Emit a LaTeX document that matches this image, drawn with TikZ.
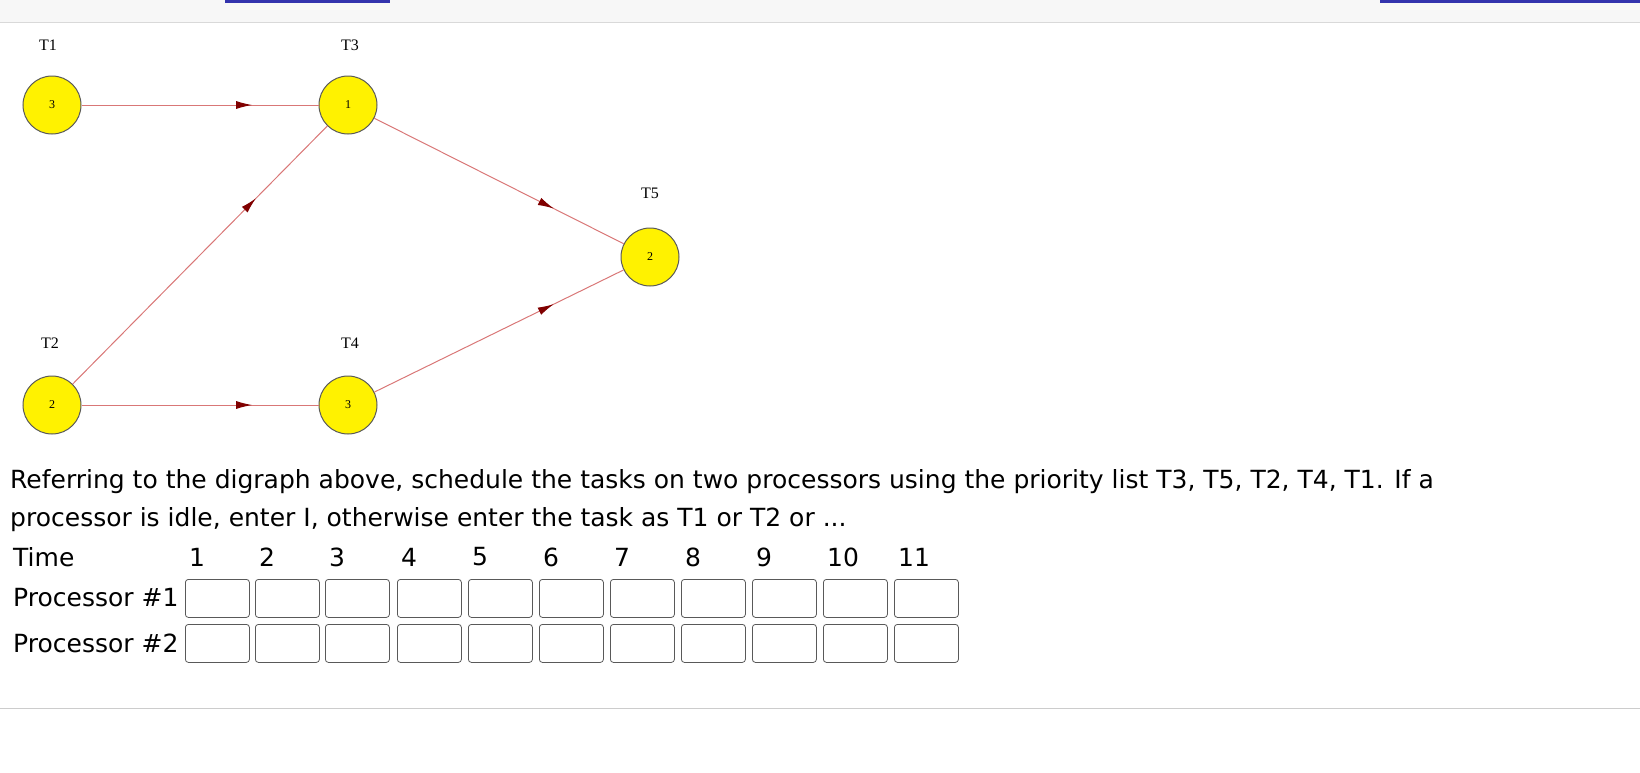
\documentclass[tikz,border=0pt]{standalone}
\usepackage{fontspec}
\setmainfont{Liberation Serif}
\newfontfamily\uifont{DejaVu Sans}
\usetikzlibrary{decorations.markings,arrows.meta}
\begin{document}
\begin{tikzpicture}[x=1pt,y=-1pt,
  task/.style={circle,draw=black!65,line width=1pt,fill=yellow,minimum size=58pt,inner sep=0pt,font=\fontsize{12}{13}\selectfont},
  tlabel/.style={font=\fontsize{16}{17}\selectfont},
  edge/.style={draw=red!45!white!85!black,line width=1pt,postaction={decorate},
    decoration={markings,mark=at position 0.72 with {\arrow[fill=red!50!black,draw=red!50!black]{Latex[length=16pt,width=8pt]}}}},
  cell/.style={draw=black!65,line width=0.8pt,rounded corners=3pt,minimum width=64pt,minimum height=38pt,inner sep=0pt,anchor=north west},
  ui/.style={font=\uifont\fontsize{25}{29}\selectfont,anchor=west,inner sep=0pt}]
\useasboundingbox (0,0) rectangle (1640,772);
\fill[black!3] (0,0) rectangle (1640,22);
\draw[black!15] (0,22) -- (1640,22);
\fill[blue!60!black!80] (225,0) rectangle (390,3);
\fill[blue!60!black!80] (1380,0) rectangle (1640,3);
\draw[black!20,line width=1pt] (0,708) -- (1640,708);
\node[task] (t1) at (52,105) {3};
\node[task] (t3) at (348,105) {1};
\node[task] (t5) at (650,257) {2};
\node[task] (t2) at (52,405) {2};
\node[task] (t4) at (348,405) {3};
\node[tlabel] (l1) at (48,45) {T1};
\node[tlabel] (l3) at (350,45) {T3};
\node[tlabel] (l5) at (650,193) {T5};
\node[tlabel] (l2) at (50,343) {T2};
\node[tlabel] (l4) at (350,343) {T4};
\path[edge] (t1) -- (t3);
\path[edge] (t2) -- (t3);
\path[edge] (t2) -- (t4);
\path[edge] (t3) -- (t5);
\path[edge] (t4) -- (t5);
\node[ui] (q1) at (10,482) {Referring to the digraph above, schedule the tasks on two processors using the priority list T3, T5, T2, T4, T1. If a};
\node[ui] (q2) at (10,520) {processor is idle, enter I, otherwise enter the task as T1 or T2 or ...};
\node[ui] (time) at (13,557) {Time};
\node[ui] (p1) at (13,598) {Processor \#1};
\node[ui] (p2) at (13,643) {Processor \#2};
\foreach \i/\x in {1/185,2/255,3/325,4/397,5/468,6/539,7/610,8/681,9/752,10/823,11/894}{
  \node[ui] (n\i) at (\x+4,557) {\i};
  \node[cell] (a\i) at (\x,579) {};
  \node[cell] (b\i) at (\x,624) {};
}
\end{tikzpicture}
\end{document}
